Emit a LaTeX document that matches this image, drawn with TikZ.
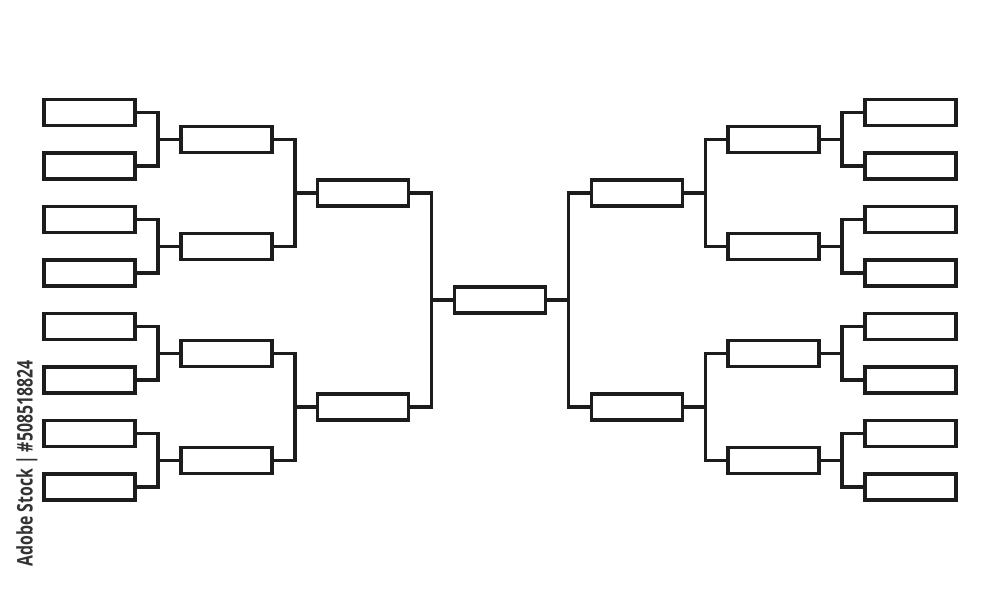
\documentclass[tikz,border=0pt]{standalone}
\usepackage{fontspec}
\setsansfont{Open Sans}
\usetikzlibrary{calc}
\definecolor{ink}{HTML}{1C1C1C}
\definecolor{wm}{HTML}{333333}
\begin{document}
\begin{tikzpicture}[x=1pt,y=-1pt,
  slot/.style={draw=ink,line width=3.5pt,minimum width=91pt,minimum height=26pt,inner sep=0pt,outer sep=0pt,fill=white},
  link/.style={draw=ink,line width=3.5pt}]
\useasboundingbox[fill=white] (0,0) rectangle (1000,600);
% round 1
\foreach \i in {1,...,8} {
  \pgfmathsetmacro\yy{112.5+53.5*(\i-1)}
  \node[slot] (L1-\i) at (89.5,\yy) {};
  \node[slot] (R1-\i) at (910.5,\yy) {};
}
% round 2
\foreach \i in {1,...,4} {
  \pgfmathsetmacro\yy{139.25+107*(\i-1)}
  \node[slot] (L2-\i) at (226.3,\yy) {};
  \node[slot] (R2-\i) at (773.7,\yy) {};
}
% round 3
\foreach \i in {1,2} {
  \pgfmathsetmacro\yy{192.75+214*(\i-1)}
  \node[slot] (L3-\i) at (363.2,\yy) {};
  \node[slot] (R3-\i) at (636.8,\yy) {};
}
% final
\node[slot] (F) at (500,299.75) {};
% connectors
\foreach \r/\n/\m in {1/2/4,2/3/2,3/4/1} {
  \foreach \i [evaluate=\i as \a using int(2*\i-1), evaluate=\i as \b using int(2*\i)] in {1,...,\m} {
    \ifnum\r=3
      \coordinate (jl) at ($(L3-\a.east)!0.5!(F.west)$);
      \draw[link] (L3-\a.east) -| (jl |- F.west) |- (L3-\b.east);
      \draw[link] (jl |- F.west) -- (F.west);
      \coordinate (jr) at ($(R3-\a.west)!0.5!(F.east)$);
      \draw[link] (R3-\a.west) -| (jr |- F.east) |- (R3-\b.west);
      \draw[link] (jr |- F.east) -- (F.east);
    \else
      \coordinate (jl) at ($(L\r-\a.east)!0.5!(L\n-\i.west)$);
      \draw[link] (L\r-\a.east) -| (jl |- L\n-\i.west) |- (L\r-\b.east);
      \draw[link] (jl |- L\n-\i.west) -- (L\n-\i.west);
      \coordinate (jr) at ($(R\r-\a.west)!0.5!(R\n-\i.east)$);
      \draw[link] (R\r-\a.west) -| (jr |- R\n-\i.east) |- (R\r-\b.west);
      \draw[link] (jr |- R\n-\i.east) -- (R\n-\i.east);
    \fi
  }
}
% stock watermark
\node[rotate=90,anchor=base,inner sep=0pt,text=wm,font=\sffamily\bfseries\fontsize{21.5}{22}\selectfont] (wmark) at (32.7,463.5) {\scalebox{0.735}[1]{Adobe Stock | \#508518824}};
\end{tikzpicture}
\end{document}
